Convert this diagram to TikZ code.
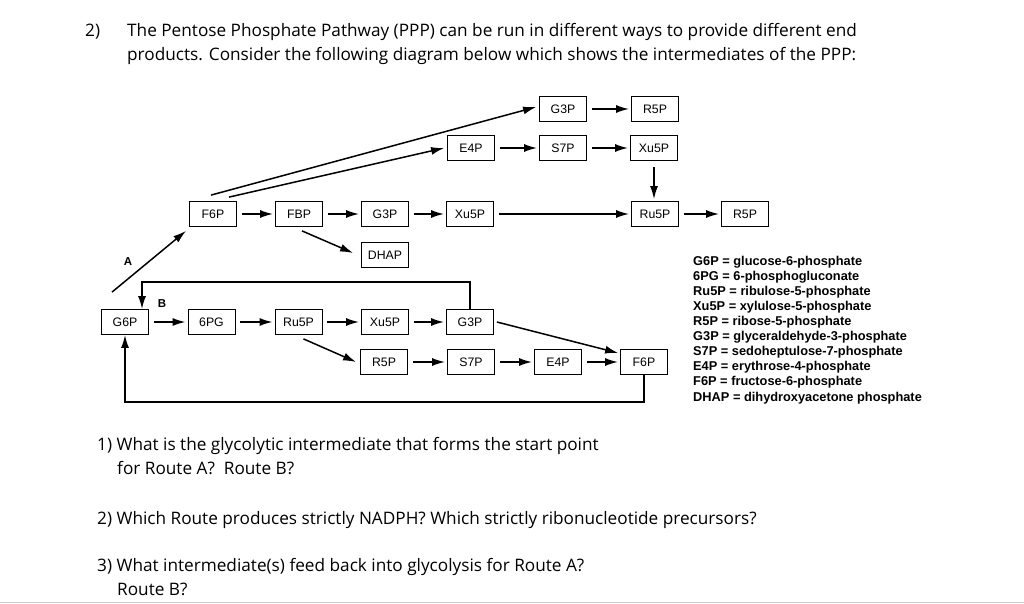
\documentclass[tikz,border=0pt]{standalone}
\usepackage{fontspec}
\setmainfont{Open Sans}
\newfontfamily\arialf{Liberation Sans}
\usetikzlibrary{arrows.meta}
\begin{document}
\begin{tikzpicture}[x=1pt,y=-1pt,
  box/.style={draw,line width=0.8pt,minimum width=47pt,minimum height=25pt,inner sep=0pt,font=\arialf\fontsize{12.3}{14}\selectfont},
  arr/.style={line width=1.5pt,-{Latex[length=13pt,width=8pt]}},
  harr/.style={arr,shorten <=5pt,shorten >=2pt},
  txt/.style={anchor=base west,inner sep=0pt,font=\fontsize{17.2}{20}\selectfont},
  leg/.style={anchor=base west,inner sep=0pt,font=\arialf\bfseries\fontsize{12.8}{15}\selectfont}]
\useasboundingbox (0,0) rectangle (1024,604);
\draw[gray!40,line width=0.8pt] (0,602) -- (1024,602);
% title
\node[txt] (t0) at (85,37) {2)};
\node[txt] (t1) at (127,37) {The Pentose Phosphate Pathway (PPP) can be run in different ways to provide different end};
\node[txt] (t2) at (127,61) {products. Consider the following diagram below which shows the intermediates of the PPP:};
% boxes
\node[box] (G3Pt) at (563,109) {G3P};
\node[box] (R5Pt) at (655,109) {R5P};
\node[box] (E4Pt) at (471,148) {E4P};
\node[box] (S7Pt) at (563,148) {S7P};
\node[box] (Xu5Pt) at (654,148) {Xu5P};
\node[box] (F6Pa) at (213,214) {F6P};
\node[box] (FBP) at (299,214) {FBP};
\node[box] (G3Pa) at (385,214) {G3P};
\node[box] (Xu5Pa) at (470,214) {Xu5P};
\node[box] (Ru5Pa) at (655,214) {Ru5P};
\node[box] (R5Pa) at (745,214) {R5P};
\node[box] (DHAP) at (385,255) {DHAP};
\node[box] (G6P) at (125,322) {G6P};
\node[box] (PG6) at (211.5,322) {6PG};
\node[box] (Ru5Pb) at (298.5,322) {Ru5P};
\node[box] (Xu5Pb) at (385,322) {Xu5P};
\node[box] (G3Pb) at (470,322) {G3P};
\node[box] (R5Pb) at (384,362) {R5P};
\node[box] (S7Pb) at (471,362) {S7P};
\node[box] (E4Pb) at (558,362) {E4P};
\node[box] (F6Pb) at (644,362) {F6P};
% horizontal arrows
\draw[harr] (G3Pt) -- (R5Pt);
\draw[harr] (E4Pt) -- (S7Pt);
\draw[harr] (S7Pt) -- (Xu5Pt);
\draw[harr] (F6Pa) -- (FBP);
\draw[harr] (FBP) -- (G3Pa);
\draw[harr] (G3Pa) -- (Xu5Pa);
\draw[harr] (Xu5Pa) -- (Ru5Pa);
\draw[harr] (Ru5Pa) -- (R5Pa);
\draw[harr] (G6P) -- (PG6);
\draw[harr] (PG6) -- (Ru5Pb);
\draw[harr] (Ru5Pb) -- (Xu5Pb);
\draw[harr] (Xu5Pb) -- (G3Pb);
\draw[harr] (R5Pb) -- (S7Pb);
\draw[harr] (S7Pb) -- (E4Pb);
\draw[harr] (E4Pb) -- (F6Pb);
\draw[arr,shorten <=6pt,shorten >=2pt] (Xu5Pt) -- (Xu5Pt |- Ru5Pa.north);
% diagonal arrows
\draw[arr] ([shift={(-13,-17)}]G6P.north) -- ([shift={(-27,4)}]F6Pa.south);
\draw[arr] ([shift={(-2,-6)}]F6Pa.north) -- ([shift={(-3,-2)}]G3Pt.west);
\draw[arr] ([shift={(16,-4)}]F6Pa.north) -- ([shift={(-3,0)}]E4Pt.west);
\draw[arr] ([shift={(3,4)}]FBP.south) -- ([shift={(-8,-2)}]DHAP.west);
\draw[arr] ([shift={(5,4)}]Ru5Pb.south) -- ([shift={(-4,0)}]R5Pb.west);
\draw[arr] ([shift={(3,0)}]G3Pb.east) -- ([shift={(-2,-9)}]F6Pb.west);
% loops
\draw[arr] (G3Pb.north) -- ++(0,-27) -| ([xshift=17pt]G6P.north);
\draw[arr] (F6Pb.south) -- ++(0,27) -| (G6P.south);
\node[font=\arialf\bfseries\fontsize{11.5}{13}\selectfont] (lA) at (128,262) {A};
\node[font=\arialf\bfseries\fontsize{11.5}{13}\selectfont] (lB) at (162,304) {B};
% legend
\node[leg] (l1) at (693,265) {G6P = glucose-6-phosphate};
\node[leg] (l2) at (693,280) {6PG = 6-phosphogluconate};
\node[leg] (l3) at (693,295) {Ru5P = ribulose-5-phosphate};
\node[leg] (l4) at (693,310) {Xu5P = xylulose-5-phosphate};
\node[leg] (l5) at (693,325) {R5P = ribose-5-phosphate};
\node[leg] (l6) at (693,340) {G3P = glyceraldehyde-3-phosphate};
\node[leg] (l7) at (693,355) {S7P = sedoheptulose-7-phosphate};
\node[leg] (l8) at (693,370) {E4P = erythrose-4-phosphate};
\node[leg] (l9) at (693,385) {F6P = fructose-6-phosphate};
\node[leg] (l10) at (693,401) {DHAP = dihydroxyacetone phosphate};
% questions
\node[txt] (q1) at (97,450) {1) What is the glycolytic intermediate that forms the start point};
\node[txt] (q1b) at (117,474) {for Route A?\ \ Route B?};
\node[txt] (q2) at (97,524) {2) Which Route produces strictly NADPH? Which strictly ribonucleotide precursors?};
\node[txt] (q3) at (97,571) {3) What intermediate(s) feed back into glycolysis for Route A?};
\node[txt] (q3b) at (117,595) {Route B?};
\end{tikzpicture}
\end{document}
